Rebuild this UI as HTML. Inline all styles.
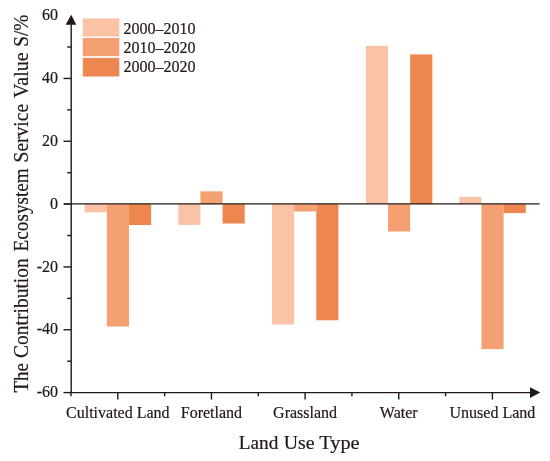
<!DOCTYPE html>
<html><head><meta charset="utf-8"><title>Chart</title>
<style>html,body{margin:0;padding:0;background:#fff}svg{display:block}text{font-family:"Liberation Serif",serif;fill:#231815;stroke:#231815;stroke-width:0.2px}</style></head><body>
<svg width="550" height="461" viewBox="0 0 550 461">
<rect width="550" height="461" fill="#fff"/>
<rect x="84.68" y="204.10" width="22.15" height="8.30" fill="#FAC3A5"/>
<rect x="106.83" y="204.10" width="22.15" height="122.40" fill="#F5A073"/>
<rect x="128.98" y="204.10" width="22.15" height="20.90" fill="#EE8650"/>
<rect x="178.28" y="204.10" width="22.15" height="20.80" fill="#FAC3A5"/>
<rect x="200.43" y="191.30" width="22.15" height="12.80" fill="#F5A073"/>
<rect x="222.57" y="204.10" width="22.15" height="19.40" fill="#EE8650"/>
<rect x="271.98" y="204.10" width="22.15" height="120.40" fill="#FAC3A5"/>
<rect x="294.12" y="204.10" width="22.15" height="7.40" fill="#F5A073"/>
<rect x="316.28" y="204.10" width="22.15" height="116.20" fill="#EE8650"/>
<rect x="365.88" y="45.80" width="22.15" height="158.30" fill="#FAC3A5"/>
<rect x="388.02" y="204.10" width="22.15" height="27.40" fill="#F5A073"/>
<rect x="410.18" y="54.40" width="22.15" height="149.70" fill="#EE8650"/>
<rect x="459.27" y="196.90" width="22.15" height="7.20" fill="#FAC3A5"/>
<rect x="481.42" y="204.10" width="22.15" height="145.00" fill="#F5A073"/>
<rect x="503.57" y="204.10" width="22.15" height="9.00" fill="#EE8650"/>
<rect x="82.8" y="18.40" width="36.5" height="18.20" fill="#FAC3A5"/>
<rect x="82.8" y="38.00" width="36.5" height="18.20" fill="#F5A073"/>
<rect x="82.8" y="57.90" width="36.5" height="18.60" fill="#EE8650"/>
<text x="123.4" y="33.6" font-size="16">2000–2010</text>
<text x="123.4" y="52.8" font-size="16">2010–2020</text>
<text x="123.4" y="71.9" font-size="16">2000–2020</text>
<g stroke="#231815" stroke-width="1.40" fill="none">
<line x1="71.20" y1="22" x2="71.20" y2="393.30"/>
<line x1="70.50" y1="392.60" x2="532" y2="392.60"/>
<line x1="64" y1="203.90" x2="539.6" y2="203.90" stroke-width="1.4"/>
<line x1="63.5" y1="392.59" x2="71.20" y2="392.59"/>
<line x1="67.2" y1="361.18" x2="71.20" y2="361.18"/>
<line x1="63.5" y1="329.76" x2="71.20" y2="329.76"/>
<line x1="67.2" y1="298.35" x2="71.20" y2="298.35"/>
<line x1="63.5" y1="266.93" x2="71.20" y2="266.93"/>
<line x1="67.2" y1="235.51" x2="71.20" y2="235.51"/>
<line x1="63.5" y1="204.10" x2="71.20" y2="204.10"/>
<line x1="67.2" y1="172.69" x2="71.20" y2="172.69"/>
<line x1="63.5" y1="141.27" x2="71.20" y2="141.27"/>
<line x1="67.2" y1="109.85" x2="71.20" y2="109.85"/>
<line x1="63.5" y1="78.44" x2="71.20" y2="78.44"/>
<line x1="67.2" y1="47.02" x2="71.20" y2="47.02"/>
<line x1="117.80" y1="392.60" x2="117.80" y2="399.6"/>
<line x1="70.97" y1="392.60" x2="70.97" y2="396.3"/>
<line x1="211.45" y1="392.60" x2="211.45" y2="399.6"/>
<line x1="164.62" y1="392.60" x2="164.62" y2="396.3"/>
<line x1="305.10" y1="392.60" x2="305.10" y2="399.6"/>
<line x1="258.28" y1="392.60" x2="258.28" y2="396.3"/>
<line x1="398.75" y1="392.60" x2="398.75" y2="399.6"/>
<line x1="351.93" y1="392.60" x2="351.93" y2="396.3"/>
<line x1="492.40" y1="392.60" x2="492.40" y2="399.6"/>
<line x1="445.58" y1="392.60" x2="445.58" y2="396.3"/>
</g>
<polygon points="71.20,14.8 65.6,24.8 76.3,24.8" fill="#231815"/>
<polygon points="540.3,392.60 530,387.3 530,397.9" fill="#231815"/>
<text x="58" y="20.31" font-size="16" text-anchor="end">60</text>
<text x="58" y="83.14" font-size="16" text-anchor="end">40</text>
<text x="58" y="145.97" font-size="16" text-anchor="end">20</text>
<text x="58" y="208.80" font-size="16" text-anchor="end">0</text>
<text x="58" y="271.63" font-size="16" text-anchor="end">-20</text>
<text x="58" y="334.46" font-size="16" text-anchor="end">-40</text>
<text x="58" y="397.29" font-size="16" text-anchor="end">-60</text>
<text x="117.80" y="417.6" font-size="16" text-anchor="middle">Cultivated Land</text>
<text x="211.45" y="417.6" font-size="16" text-anchor="middle">Foretland</text>
<text x="305.10" y="417.6" font-size="16" text-anchor="middle">Grassland</text>
<text x="398.75" y="417.6" font-size="16" text-anchor="middle">Water</text>
<text x="492.40" y="417.6" font-size="16" text-anchor="middle">Unused Land</text>
<text y="449.0" font-size="19.4"><tspan x="238.80" textLength="39.60" lengthAdjust="spacingAndGlyphs">Land</tspan> <tspan x="283.70" textLength="30.90" lengthAdjust="spacingAndGlyphs">Use</tspan> <tspan x="319.30" textLength="40.30" lengthAdjust="spacingAndGlyphs">Type</tspan></text>
<text transform="translate(28.3,0) rotate(-90)" y="0" font-size="19.9"><tspan x="-392.50" textLength="29.40" lengthAdjust="spacingAndGlyphs">The</tspan> <tspan x="-357.90" textLength="99.60" lengthAdjust="spacingAndGlyphs">Contribution</tspan> <tspan x="-251.40" textLength="83.10" lengthAdjust="spacingAndGlyphs">Ecosystem</tspan> <tspan x="-162.40" textLength="58.50" lengthAdjust="spacingAndGlyphs">Service</tspan> <tspan x="-98.00" textLength="45.70" lengthAdjust="spacingAndGlyphs">Value</tspan> <tspan x="-46.70" textLength="32.00" lengthAdjust="spacingAndGlyphs">S/%</tspan></text>
</svg></body></html>
